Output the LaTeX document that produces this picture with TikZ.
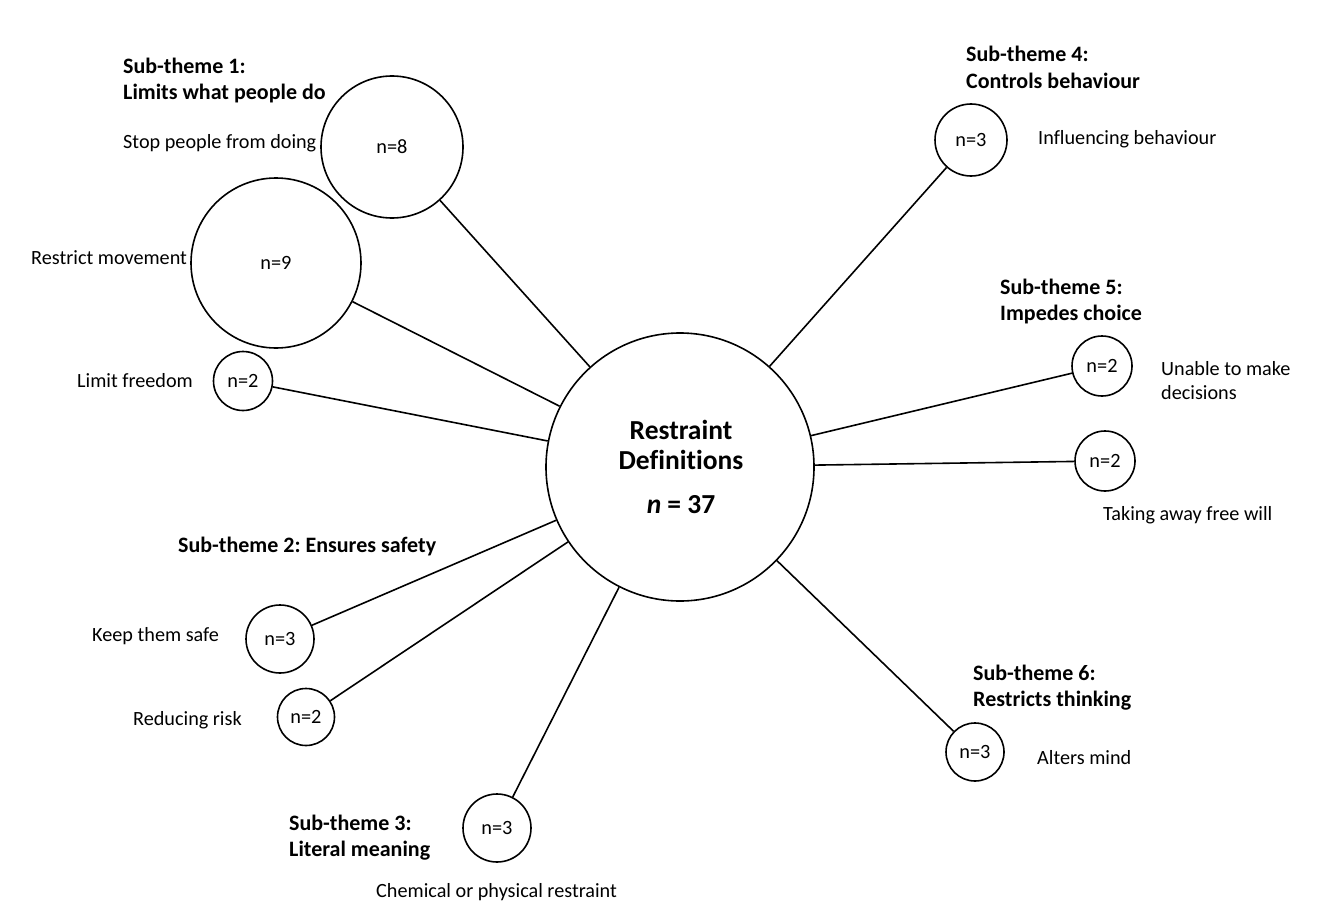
\documentclass[tikz,border=0pt]{standalone}
\usepackage{fontspec}
\setmainfont{Carlito}[Ligatures=NoCommon]
\frenchspacing
\begin{document}
\begin{tikzpicture}[x=1pt,y=-1pt,
  bub/.style={draw=black,line width=1.6pt,circle,inner sep=0pt,fill=white,font=\fontsize{20.3}{24}\selectfont},
  lbl/.style={anchor=base west,inner sep=0pt,font=\fontsize{20.2}{24}\selectfont},
  hd/.style={anchor=base west,inner sep=0pt,font=\fontsize{22}{26}\selectfont\bfseries},
  ctr/.style={anchor=base,inner sep=0pt,font=\fontsize{27.5}{30}\selectfont\bfseries},
  conn/.style={line width=1.6pt,black}]
\useasboundingbox (0,0) rectangle (1324,923);
\fill[white] (0,0) rectangle (1324,923);
% circles
\node[bub,minimum size=268pt] (c) at (680,467) {};
\node[bub,minimum size=142pt] (s8) at (392,147) {n=8};
\node[bub,minimum size=170pt] (s9) at (276,263) {n=9};
\node[bub,minimum size=59pt] (lf) at (243,381) {n=2};
\node[bub,minimum size=68pt] (ks) at (280,639) {n=3};
\node[bub,minimum size=57pt] (rr) at (306,717) {n=2};
\node[bub,minimum size=68pt] (lm) at (497,828) {n=3};
\node[bub,minimum size=72pt] (cb) at (971,140) {n=3};
\node[bub,minimum size=60pt] (um) at (1102,366) {n=2};
\node[bub,minimum size=60pt] (fw) at (1105,461) {n=2};
\node[bub,minimum size=58pt] (am) at (975,752) {n=3};
% connectors
\foreach \t in {s8,s9,lf,ks,rr,lm,cb,um,fw,am}{\draw[conn] (c) -- (\t);}
% centre text
\node[ctr] (t1) at (681,439) {Restraint};
\node[ctr] (t2) at (681,469) {Definitions};
\node[ctr] (t3) at (681,513.5) {\textit{n} = 37};
% sub-theme headings
\node[hd] (h1a) at (123,73.5) {Sub-theme 1:};
\node[hd] (h1b) at (123,100) {Limits what people do};
\node[hd] (h2) at (178,552.5) {Sub-theme 2: Ensures safety};
\node[hd] (h3a) at (289,830.5) {Sub-theme 3:};
\node[hd] (h3b) at (289,856.5) {Literal meaning};
\node[hd] (h4a) at (966,61.5) {Sub-theme 4:};
\node[hd] (h4b) at (966,88.5) {Controls behaviour};
\node[hd] (h5a) at (1000,294) {Sub-theme 5:};
\node[hd] (h5b) at (1000,320.5) {Impedes choice};
\node[hd] (h6a) at (973,680) {Sub-theme 6:};
\node[hd] (h6b) at (973,706.5) {Restricts thinking};
% labels
\node[lbl] (l1) at (123,148.5) {Stop people from doing};
\node[lbl] (l2) at (31,264) {Restrict movement};
\node[lbl] (l3) at (77,387) {Limit freedom};
\node[lbl] (l4) at (92,641) {Keep them safe};
\node[lbl] (l5) at (133,725) {Reducing risk};
\node[lbl] (l6) at (376,897) {Chemical or physical restraint};
\node[lbl] (l7) at (1038,144) {Influencing behaviour};
\node[lbl] (l8a) at (1161,375) {Unable to make};
\node[lbl] (l8b) at (1161,399) {decisions};
\node[lbl] (l9) at (1103,520) {Taking away free will};
\node[lbl] (l10) at (1037,764) {Alters mind};
\end{tikzpicture}
\end{document}
